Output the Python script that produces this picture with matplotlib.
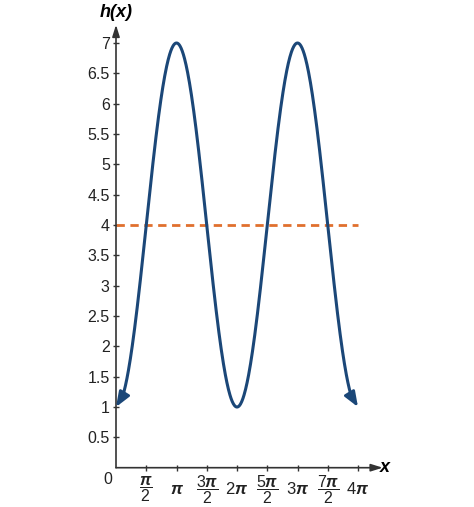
import numpy as np
import matplotlib
matplotlib.use("Agg")
import matplotlib.pyplot as plt

# h(x): min 1, max 7, period 2*pi, starts at a minimum
midline = 4.0
amplitude = 3.0
period = 2 * np.pi
x_start, x_end = 0.0, 4 * np.pi
arrow_gap = 0.35  # where the curve stops and the arrowheads take over

y_ticks = [0.5, 1, 1.5, 2, 2.5, 3, 3.5, 4, 4.5, 5, 5.5, 6, 6.5, 7]
y_labels = ['0.5', '1', '1.5', '2', '2.5', '3', '3.5', '4', '4.5', '5', '5.5', '6', '6.5', '7']
x_ticks = [np.pi / 2 * k for k in range(1, 9)]
x_labels = [r'$\dfrac{\mathbf{\pi}}{2}$', r'$\mathbf{\pi}$', r'$\dfrac{3\mathbf{\pi}}{2}$', r'$2\mathbf{\pi}$',
            r'$\dfrac{5\mathbf{\pi}}{2}$', r'$3\mathbf{\pi}$', r'$\dfrac{7\mathbf{\pi}}{2}$', r'$4\mathbf{\pi}$']

curve_color = '#1b4778'
dash_color = '#e0702e'
axis_color = '#333333'

plt.rcParams['font.family'] = ['Liberation Sans', 'DejaVu Sans']
plt.rcParams['mathtext.fontset'] = 'custom'
plt.rcParams['mathtext.rm'] = 'Liberation Sans'
plt.rcParams['mathtext.it'] = 'Liberation Sans:italic'
plt.rcParams['mathtext.bf'] = 'Liberation Sans:italic:bold'

W, H = 474, 507
fig = plt.figure(figsize=(W / 100, H / 100), dpi=100)
# pixel mapping: x=0 at 116px, pi/2 per 30.25px; y=0 at 467.7px, 60.67px per unit
px_x = 30.25 / (np.pi / 2)
px_y = 60.67
xmax, ymax = 14.5, 7.3
ax = fig.add_axes([116 / W, (H - 467.7) / H, xmax * px_x / W, ymax * px_y / H])
ax.set_xlim(0, xmax)
ax.set_ylim(0, ymax)
for s in ax.spines.values():
    s.set_visible(False)

# axes with arrows
axis_arrow = dict(arrowstyle='-|>,head_length=0.7,head_width=0.22', color=axis_color, lw=1.2,
                  shrinkA=0, shrinkB=0)
ax.annotate('', xy=(13.85, 0), xytext=(0, 0), annotation_clip=False, arrowprops=axis_arrow)
ax.annotate('', xy=(0, 7.3), xytext=(0, 0), annotation_clip=False, arrowprops=axis_arrow)

ax.set_yticks(y_ticks)
ax.set_yticklabels(y_labels)
ax.set_xticks(x_ticks)
ax.set_xticklabels(x_labels)
ax.tick_params(axis='both', direction='inout', length=5, width=1, color=axis_color,
               labelsize=11.5, labelcolor='#222222')
ax.tick_params(axis='x', labelsize=12, pad=13)
ax.tick_params(axis='y', pad=2)
for lab in ax.get_xticklabels():
    lab.set_va('center')
    if 'frac' in lab.get_text():
        lab.set_fontsize(11.5)

ax.text(-0.4, -0.2, '0', ha='center', va='center', fontsize=11.5, color='#222222', clip_on=False)
ax.text(13.72, 0, 'x', ha='left', va='center', fontsize=13, fontweight='bold', style='italic', clip_on=False)
ax.text(0, 7.5, 'h(x)', ha='center', va='center', fontsize=13, fontweight='bold', style='italic', clip_on=False)

# midline
ax.plot([0, x_end], [midline, midline], color=dash_color, lw=2, ls=(0, (3, 2)), clip_on=False)

# curve
x = np.linspace(x_start + arrow_gap, x_end - arrow_gap, 600)
y = midline - amplitude * np.cos(2 * np.pi * x / period)
ax.plot(x, y, color=curve_color, lw=2.2, clip_on=False)
tip_y = midline - amplitude
for i0, tip_x in [(0, x_start), (-1, x_end)]:
    ax.annotate('', xy=(tip_x, tip_y), xytext=(x[i0], y[i0]), annotation_clip=False,
                arrowprops=dict(arrowstyle='-|>,head_length=0.9,head_width=0.35', color=curve_color, lw=2,
                                shrinkA=0, shrinkB=0))

fig.savefig('out.png', dpi=100)
